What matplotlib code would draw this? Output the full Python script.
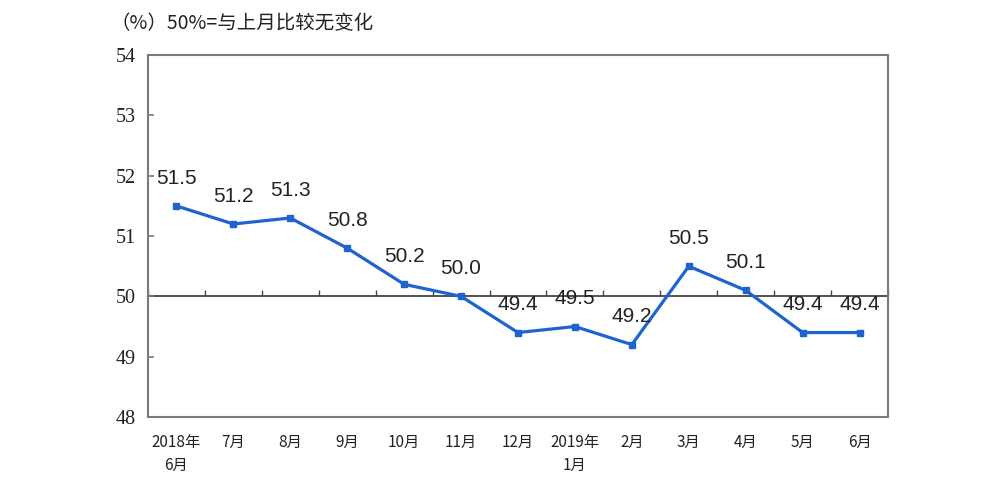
import matplotlib
matplotlib.use('Agg')
import matplotlib.pyplot as plt
import numpy as np

# data
months = ['2018年\n6月', '7月', '8月', '9月', '10月', '11月', '12月',
          '2019年\n1月', '2月', '3月', '4月', '5月', '6月']
pmi = [51.5, 51.2, 51.3, 50.8, 50.2, 50.0, 49.4, 49.5, 49.2, 50.5, 50.1, 49.4, 49.4]
value_labels = ['51.5', '51.2', '51.3', '50.8', '50.2', '50.0', '49.4',
                '49.5', '49.2', '50.5', '50.1', '49.4', '49.4']
y_ticks = [48, 49, 50, 51, 52, 53, 54]

cjk = ['Noto Sans CJK SC', 'DejaVu Sans']
blue = '#1f63d0'
grey = '#7a7a7a'

fig = plt.figure(figsize=(10, 4.97), dpi=100)
ax = fig.add_axes([0.148, 0.161, 0.74, 0.728])

x = np.arange(len(months))
ax.plot(x, pmi, color=blue, linewidth=2.3, marker='s', markersize=5,
        zorder=5)

# value labels above points
for xi, yi, lab in zip(x, pmi, value_labels):
    ax.annotate(lab, (xi, yi), xytext=(0, 20), textcoords='offset points',
                ha='center', va='center', fontsize=15,
                family='Liberation Sans', color='#222222', zorder=6)

ax.set_xlim(-0.5, len(months) - 0.5)
ax.set_ylim(48, 54)

# y axis
ax.set_yticks(y_ticks)
ax.set_yticklabels([str(v) for v in y_ticks], family='Liberation Serif',
                   fontsize=14.5, color='#222222')
ax.tick_params(axis='y', direction='in', length=4, width=1.2, color=grey,
               pad=9)

# x labels at the bottom, no tick marks
ax.set_xticks(x)
ax.set_xticklabels(months, family=cjk, fontsize=11, color='#222222',
                   linespacing=1.45)
ax.tick_params(axis='x', length=0, pad=12)

for s in ax.spines.values():
    s.set_color(grey)
    s.set_linewidth(1.5)

# axis line through 50 with tick marks at category boundaries
sec = ax.secondary_xaxis((50 - 48) / (54 - 48))
sec.set_xticks(np.arange(-0.5, len(months), 1.0))
sec.set_xticklabels([])
sec.tick_params(axis='x', direction='in', length=4, width=1.0,
                color='#444444')
sec.spines['bottom'].set_color('#444444')
sec.spines['bottom'].set_linewidth(1.3)

fig.text(0.11, 0.952, '（%）50%=与上月比较无变化', family=cjk, fontsize=14,
         color='#222222', ha='left', va='center')

fig.savefig('out.png', dpi=100)
